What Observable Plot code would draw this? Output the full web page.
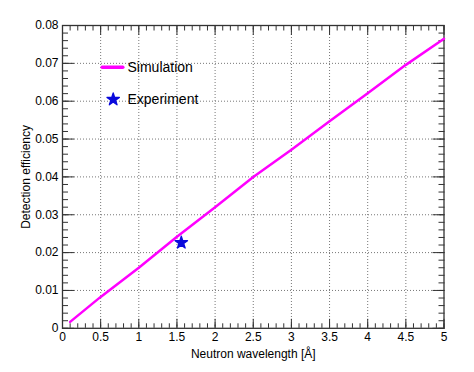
<!DOCTYPE html>
<html>
<head>
<meta charset="utf-8">
<script src="https://cdn.jsdelivr.net/npm/d3@7"></script>
<script src="https://cdn.jsdelivr.net/npm/@observablehq/plot@0.6"></script>
<style>
  html, body { margin: 0; padding: 0; background: #fff; }
  #chart { width: 474px; height: 372px; }
</style>
</head>
<body>
<div id="chart"></div>
<script>
// Simulation curve (wavelength in Å, detection efficiency)
const simX = [0.1, 0.5, 1, 1.5, 2, 2.5, 3, 3.5, 4, 4.5, 5];
const simY = [0.0017, 0.0083, 0.0160, 0.0242, 0.0320, 0.0400, 0.0472, 0.0547, 0.0621, 0.0696, 0.0765];
// Experimental point
const expX = [1.557];
const expY = [0.0226];
// Tick labels
const xTicks = [0, 0.5, 1, 1.5, 2, 2.5, 3, 3.5, 4, 4.5, 5];
const yTicks = [0, 0.01, 0.02, 0.03, 0.04, 0.05, 0.06, 0.07, 0.08];
const legendLabels = ["Simulation", "Experiment"];
const xTitle = "Neutron wavelength [Å]";
const yTitle = "Detection efficiency";

const sim = simX.map((x, i) => ({x, y: simY[i]}));
const exp = expX.map((x, i) => ({x, y: expY[i]}));
const xMinor = d3.range(0, 50.5, 1).map(d => d / 10);
const yMinor = d3.range(0, 40.5, 1).map(d => d / 500);

const font = "'Liberation Sans', Arial, Helvetica, sans-serif";
const axisColor = "#333";
const magenta = "#ff00ff";
const blue = "#0a0adc";
const lineShape = {draw(ctx, l) { ctx.moveTo(0, 0); ctx.lineTo(0, -l); }};

const chart = Plot.plot({
  width: 474,
  height: 372,
  marginLeft: 62,
  marginRight: 30.5,
  marginTop: 25,
  marginBottom: 44.2,
  style: {fontFamily: font, background: "#fff", color: "#000"},
  x: {domain: [0, 5]},
  y: {domain: [0, 0.08]},
  marks: [
    Plot.gridX(xTicks.slice(1, -1), {stroke: "#777", strokeOpacity: 1, strokeDasharray: "1,2"}),
    Plot.gridY(yTicks.slice(1, -1), {stroke: "#777", strokeOpacity: 1, strokeDasharray: "1,2"}),
    // inward ticks, all four sides
    Plot.axisX(xMinor, {anchor: "bottom", tickSize: -4.5, tickFormat: () => "", label: null, stroke: axisColor}),
    Plot.axisX(xTicks, {anchor: "bottom", tickSize: -9, tickFormat: () => "", label: null, stroke: axisColor}),
    Plot.axisX(xMinor, {anchor: "top", tickSize: -4.5, tickFormat: () => "", label: null, stroke: axisColor}),
    Plot.axisX(xTicks, {anchor: "top", tickSize: -9, tickFormat: () => "", label: null, stroke: axisColor}),
    Plot.axisY(yMinor, {anchor: "left", tickSize: -6, tickFormat: () => "", label: null, stroke: axisColor}),
    Plot.axisY(yTicks, {anchor: "left", tickSize: -12, tickFormat: () => "", label: null, stroke: axisColor}),
    Plot.axisY(yMinor, {anchor: "right", tickSize: -6, tickFormat: () => "", label: null, stroke: axisColor}),
    Plot.axisY(yTicks, {anchor: "right", tickSize: -12, tickFormat: () => "", label: null, stroke: axisColor}),
    // tick labels
    Plot.axisX(xTicks, {anchor: "bottom", tickSize: 0, tickPadding: 4, fontSize: 12, tickFormat: d => String(d), label: null, fill: "#000"}),
    Plot.axisY(yTicks, {anchor: "left", tickSize: 0, tickPadding: 4, fontSize: 12, tickFormat: d => String(d), label: null, fill: "#000"}),
    Plot.frame({stroke: axisColor, strokeWidth: 1.3}),
    // data
    Plot.line(sim, {x: "x", y: "y", stroke: magenta, strokeWidth: 2.5}),
    Plot.dot(exp, {x: "x", y: "y", symbol: "star", fill: blue, stroke: blue, strokeWidth: 1.3, strokeLinejoin: "round", r: 3.9}),
    // legend
    Plot.vector([legendLabels[0]], {frameAnchor: "top-left", dx: 39.7, dy: 41.7, rotate: 90, length: 20.6, anchor: "start", shape: lineShape, stroke: magenta, strokeWidth: 3.5}),
    Plot.text([legendLabels[0]], {frameAnchor: "top-left", dx: 65, dy: 42, text: d => d, textAnchor: "start", lineAnchor: "middle", fontSize: 14, fill: "#000"}),
    Plot.dot([legendLabels[1]], {frameAnchor: "top-left", dx: 50.7, dy: 74, symbol: "star", fill: blue, stroke: blue, strokeWidth: 1.3, strokeLinejoin: "round", r: 3.9}),
    Plot.text([legendLabels[1]], {frameAnchor: "top-left", dx: 65, dy: 74, text: d => d, textAnchor: "start", lineAnchor: "middle", fontSize: 14, fill: "#000"}),
    // axis titles
    Plot.text([xTitle], {frameAnchor: "bottom", dy: 25.5, text: d => d, textAnchor: "middle", lineAnchor: "middle", fontSize: 12, fill: "#000"}),
    Plot.text([yTitle], {frameAnchor: "left", dx: -36, dy: 0, rotate: -90, text: d => d, textAnchor: "middle", lineAnchor: "middle", fontSize: 12, fill: "#000"})
  ]
});
document.getElementById("chart").appendChild(chart);
</script>
</body>
</html>
